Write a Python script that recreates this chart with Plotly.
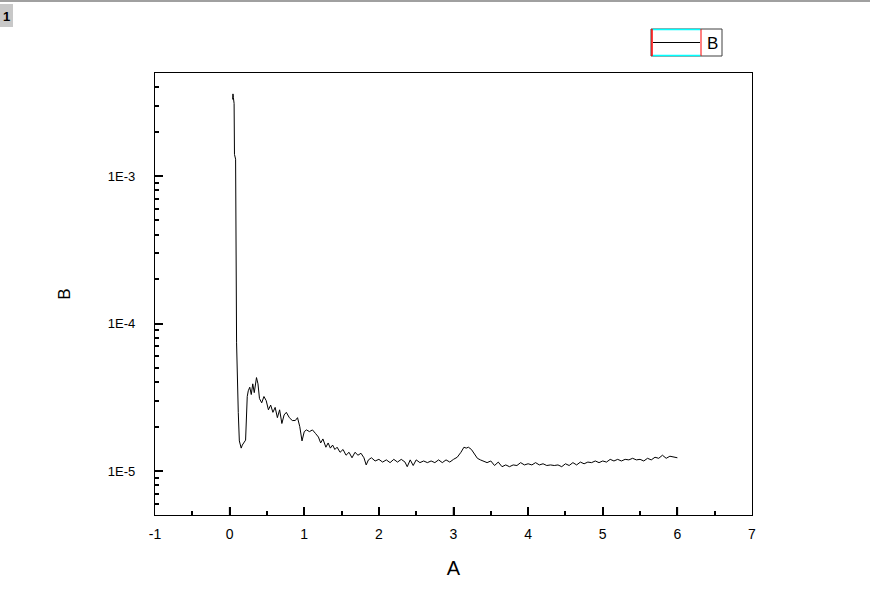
import math
import plotly.graph_objects as go

# 曲线数据 (A, B)
a_vals = [0.04, 0.045, 0.05, 0.06, 0.065, 0.08, 0.093, 0.116, 0.13, 0.155, 0.17,
          0.214, 0.236, 0.25, 0.27, 0.29, 0.31, 0.33, 0.36, 0.38, 0.40, 0.43,
          0.46, 0.49, 0.52, 0.55, 0.58, 0.61, 0.64, 0.67, 0.70, 0.73, 0.76,
          0.80, 0.84, 0.88, 0.91, 0.94, 0.97, 1.00, 1.03, 1.07, 1.11, 1.15,
          1.19, 1.22, 1.25, 1.29, 1.32, 1.35, 1.38, 1.41, 1.44, 1.48, 1.52,
          1.56, 1.60, 1.64, 1.68, 1.72, 1.76, 1.80, 1.83, 1.86, 1.90, 1.95,
          2.00, 2.05, 2.10, 2.15, 2.20, 2.25, 2.30, 2.35, 2.38, 2.42, 2.46,
          2.50, 2.55, 2.60, 2.65, 2.70, 2.75, 2.80, 2.85, 2.90, 2.95, 3.00,
          3.05, 3.10, 3.14, 3.17, 3.20, 3.24, 3.28, 3.32, 3.36, 3.40, 3.45,
          3.50, 3.55, 3.60, 3.65, 3.70, 3.75, 3.80, 3.85, 3.90, 3.95, 4.00,
          4.05, 4.10, 4.15, 4.20, 4.25, 4.30, 4.35, 4.40, 4.45, 4.50, 4.55,
          4.60, 4.65, 4.70, 4.75, 4.80, 4.85, 4.90, 4.95, 5.00, 5.05, 5.10,
          5.15, 5.20, 5.25, 5.30, 5.35, 5.40, 5.45, 5.50, 5.55, 5.60, 5.65,
          5.70, 5.75, 5.80, 5.85, 5.90, 5.95, 6.00]
b_vals = [3.3e-3, 3.6e-3, 3.4e-3, 3.1e-3, 1.4e-3, 1.3e-3, 7.4e-5, 2.5e-5, 1.6e-5, 1.43e-5, 1.5e-5,
          1.62e-5, 3.2e-5, 3.5e-5, 3.7e-5, 3.3e-5, 3.9e-5, 3.4e-5, 4.3e-5, 3.9e-5, 3.1e-5, 2.9e-5,
          3.2e-5, 3.0e-5, 2.6e-5, 2.8e-5, 2.5e-5, 2.7e-5, 2.3e-5, 2.6e-5, 2.1e-5, 2.4e-5, 2.5e-5,
          2.3e-5, 2.2e-5, 2.2e-5, 2.3e-5, 2.0e-5, 1.6e-5, 1.85e-5, 1.9e-5, 1.85e-5, 1.9e-5, 1.8e-5,
          1.7e-5, 1.55e-5, 1.65e-5, 1.45e-5, 1.55e-5, 1.43e-5, 1.5e-5, 1.4e-5, 1.45e-5, 1.34e-5, 1.4e-5,
          1.28e-5, 1.34e-5, 1.23e-5, 1.34e-5, 1.28e-5, 1.32e-5, 1.23e-5, 1.10e-5, 1.19e-5, 1.23e-5, 1.17e-5,
          1.2e-5, 1.15e-5, 1.19e-5, 1.14e-5, 1.2e-5, 1.15e-5, 1.2e-5, 1.15e-5, 1.07e-5, 1.19e-5, 1.09e-5,
          1.19e-5, 1.14e-5, 1.17e-5, 1.14e-5, 1.17e-5, 1.14e-5, 1.19e-5, 1.14e-5, 1.19e-5, 1.15e-5, 1.2e-5,
          1.24e-5, 1.34e-5, 1.45e-5, 1.43e-5, 1.45e-5, 1.4e-5, 1.3e-5, 1.22e-5, 1.19e-5, 1.17e-5, 1.14e-5,
          1.17e-5, 1.09e-5, 1.15e-5, 1.07e-5, 1.1e-5, 1.07e-5, 1.1e-5, 1.09e-5, 1.14e-5, 1.1e-5, 1.12e-5,
          1.1e-5, 1.14e-5, 1.1e-5, 1.12e-5, 1.09e-5, 1.1e-5, 1.09e-5, 1.1e-5, 1.07e-5, 1.12e-5, 1.09e-5,
          1.14e-5, 1.1e-5, 1.15e-5, 1.12e-5, 1.15e-5, 1.14e-5, 1.17e-5, 1.14e-5, 1.17e-5, 1.15e-5, 1.2e-5,
          1.17e-5, 1.2e-5, 1.17e-5, 1.2e-5, 1.19e-5, 1.22e-5, 1.19e-5, 1.2e-5, 1.17e-5, 1.22e-5, 1.19e-5,
          1.24e-5, 1.22e-5, 1.28e-5, 1.22e-5, 1.26e-5, 1.24e-5, 1.23e-5]

x_ticks = [-1, 0, 1, 2, 3, 4, 5, 6, 7]
x_ticktext = ["-1", "0", "1", "2", "3", "4", "5", "6", "7"]
x_minor = [-0.5, 0.5, 1.5, 2.5, 3.5, 4.5, 5.5, 6.5]
y_ticks = [1e-5, 1e-4, 1e-3]
y_ticktext = ["1E-5", "1E-4", "1E-3"]

# 对数轴次刻度 (2..9 × 每个十进位)
y_minor = [m * d for d in [1e-6, 1e-5, 1e-4, 1e-3] for m in range(2, 10)]

W, H = 870, 606
L, R, T, B = 155, 752, 73, 515
X_RANGE = [-1, 7]
Y_RANGE = [-5.298, -2.302]
MAJOR_LEN = 8


def px(x):
    return (x - L) / (R - L)


def py(y):
    return (B - y) / (B - T)


fig = go.Figure()
fig.add_trace(go.Scatter(
    x=a_vals, y=b_vals, mode="lines", name="B",
    line=dict(color="black", width=1),
))
# 次刻度用的叠加坐标轴（空 trace）
fig.add_trace(go.Scatter(x=[], y=[], xaxis="x2", yaxis="y2", showlegend=False))

font = dict(family="Liberation Sans, Arial, sans-serif", color="black")


def tick_axis(overlay, anchor, vals, length, log=False):
    ax = dict(
        overlaying=overlay, anchor=anchor,
        range=Y_RANGE if log else X_RANGE,
        tickmode="array", tickvals=vals,
        ticks="inside", ticklen=length, tickwidth=1.5, tickcolor="black",
        showticklabels=False, showline=False, showgrid=False, zeroline=False,
    )
    if log:
        ax.update(type="log", side="left")
    else:
        ax.update(side="bottom")
    return ax


fig.update_layout(
    width=W, height=H,
    margin=dict(l=L, r=W - R, t=T, b=H - B),
    paper_bgcolor="white", plot_bgcolor="white",
    showlegend=False,
    font=font,
    xaxis=dict(
        range=X_RANGE, tickmode="array", tickvals=x_ticks, ticktext=x_ticktext,
        ticks="inside", ticklen=MAJOR_LEN, tickwidth=1.5, tickcolor="black",
        showline=True, linecolor="black", linewidth=1.2, mirror=True,
        showgrid=False, zeroline=False,
        tickfont=dict(size=14, **font), ticklabelstandoff=6,
        title=dict(text="A", font=dict(size=20, **font), standoff=20),
    ),
    yaxis=dict(
        type="log", range=Y_RANGE, tickmode="array",
        tickvals=y_ticks, ticktext=y_ticktext,
        ticks="inside", ticklen=MAJOR_LEN, tickwidth=1.5, tickcolor="black",
        showline=True, linecolor="black", linewidth=1.2, mirror=True,
        showgrid=False, zeroline=False,
        tickfont=dict(size=13, **font), ticklabelstandoff=16,
        title=dict(text="B", font=dict(size=17, **font), standoff=32),
    ),
    xaxis2=tick_axis("x", "y2", x_minor, 4),
    yaxis2=tick_axis("y", "x2", y_minor, 4, log=True),
)

# 主刻度线 (用 shape 画，确保可见)
tick_shapes = []
for v in x_ticks[1:-1]:
    tick_shapes.append(dict(type="line", xref="x", yref="paper", x0=v, x1=v,
                            y0=0, y1=MAJOR_LEN / (B - T),
                            line=dict(color="black", width=1.5)))
for v in y_ticks:
    tick_shapes.append(dict(type="line", xref="paper", yref="y", x0=0, x1=MAJOR_LEN / (R - L),
                            y0=math.log10(v), y1=math.log10(v),
                            line=dict(color="black", width=1.5)))

# 页眉和图例框 (Origin 风格)
shapes = tick_shapes + [
    dict(type="line", xref="paper", yref="paper", x0=px(0), x1=px(W), y0=py(1), y1=py(1),
         line=dict(color="#a0a0a0", width=2)),
    dict(type="rect", xref="paper", yref="paper", x0=px(0), x1=px(13), y0=py(27), y1=py(4),
         fillcolor="#c8c8c8", line=dict(width=0)),
    dict(type="rect", xref="paper", yref="paper", x0=px(651), x1=px(722), y0=py(56), y1=py(29),
         line=dict(color="#404040", width=1), fillcolor="white"),
    dict(type="line", xref="paper", yref="paper", x0=px(652), x1=px(701), y0=py(29.5), y1=py(29.5),
         line=dict(color="cyan", width=1.5)),
    dict(type="line", xref="paper", yref="paper", x0=px(652), x1=px(701), y0=py(55.5), y1=py(55.5),
         line=dict(color="cyan", width=1.5)),
    dict(type="line", xref="paper", yref="paper", x0=px(652), x1=px(652), y0=py(56), y1=py(29),
         line=dict(color="red", width=1.5)),
    dict(type="line", xref="paper", yref="paper", x0=px(701), x1=px(701), y0=py(56), y1=py(29),
         line=dict(color="red", width=1)),
    dict(type="line", xref="paper", yref="paper", x0=px(653), x1=px(700), y0=py(42.5), y1=py(42.5),
         line=dict(color="black", width=1)),
]
fig.update_layout(shapes=shapes)

fig.add_annotation(x=px(712), y=py(43), xref="paper", yref="paper", text="B",
                   xanchor="center", yanchor="middle",
                   showarrow=False, font=dict(size=17, **font))
fig.add_annotation(x=px(6.5), y=py(16), xref="paper", yref="paper", text="<b>1</b>",
                   xanchor="center", yanchor="middle",
                   showarrow=False, font=dict(size=13, **font))

fig.write_html("out.html", config={"displayModeBar": False},
               post_script="document.body.style.margin='0px';")
